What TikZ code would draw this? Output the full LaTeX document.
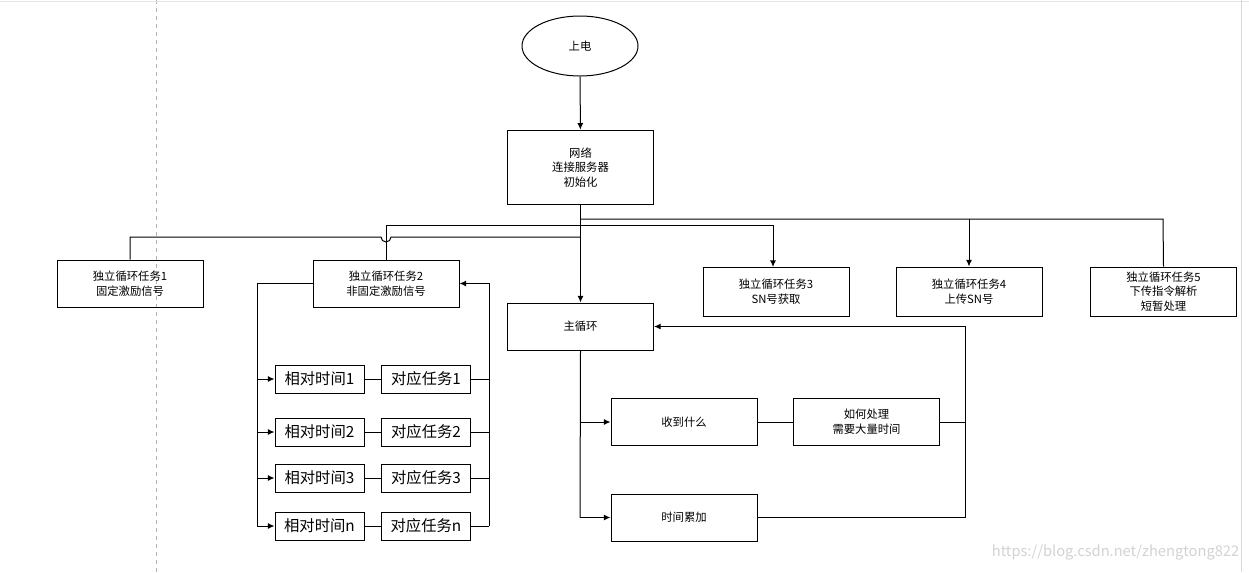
\documentclass[tikz,border=0pt]{standalone}
\usepackage{fontspec}
\setmainfont{Noto Sans CJK SC}
\usetikzlibrary{arrows.meta,shapes.geometric}
\begin{document}
\begin{tikzpicture}[x=0.75pt,y=-0.75pt,line width=0.75pt,
  box/.style={draw,minimum width=109.5pt,minimum height=35.25pt,align=center,inner sep=0pt,font=\fontsize{8.5}{11}\selectfont},
  sbox/.style={draw,minimum width=66.75pt,minimum height=21pt,inner sep=0pt,font=\fontsize{11.5}{13}\selectfont},
  line/.style={},
  arr/.style={-{Latex[length=5pt,width=4.5pt]}}]
\useasboundingbox (0,0) rectangle (1249,572);
\draw[gray!60,dashed] (156,0) -- (156,572);
\draw[gray!20] (0,1) -- (1249,1);
\draw[gray!30] (1241,0) -- (1241,572);
\node[draw,ellipse,minimum width=87pt,minimum height=45pt,font=\fontsize{8.5}{11}\selectfont] (pw) at (580,46) {上电};
\node[box,minimum height=56pt] (net) at (580.5,167.5) {网络\\连接服务器\\初始化};
\node[box] (t1) at (130,283.5) {独立循环任务1\\固定激励信号};
\node[box] (t2) at (386,283.5) {独立循环任务2\\非固定激励信号};
\node[box] (ml) at (580.5,326.5) {主循环};
\node[box,minimum height=36.75pt] (t3) at (776,291.5) {独立循环任务3\\SN号获取};
\node[box,minimum height=36.75pt] (t4) at (969,291.5) {独立循环任务4\\上传SN号};
\node[box,minimum height=36.75pt] (t5) at (1163.5,291.5) {独立循环任务5\\下传指令解析\\短暂处理};
\node[box] (rx) at (684,422) {收到什么};
\node[box] (hw) at (866.5,422) {如何处理\\需要大量时间};
\node[box] (ta) at (684,517.5) {时间累加};
\foreach \i/\y/\l in {1/379/1,2/432/2,3/478/3,4/526/n}{
  \node[sbox] (r\i) at (319.5,\y) {相对时间\l};
  \node[sbox] (c\i) at (426,\y) {对应任务\l};
  \draw[line] (r\i) -- (c\i);
  \draw[arr] (257,\y) -- (r\i.west);
  \draw[line] (c\i.east) -- (489,\y);
}
\draw[arr] (pw) -- (net);
\draw[arr] (net.south) -- (ml.north);
\draw[line] (580,219) -- (1163,219) -- (t5.north);
\draw[arr] (969,219) -- (t4.north);
\draw[arr] (580,225) -- (773,225) -- (773,267);
\draw[line] (580,225) -- (386,225) -- (t2.north);
\draw[line] (580,237) -- (391,237) arc[start angle=0,end angle=180,radius=5] -- (130,237) -- (t1.north);
\draw[line] (t2.west) -- (257,283.5) -- (257,526);
\draw[arr] (489,379) -- (489,283.5) -- (t2.east);
\draw[line] (489,379) -- (489,526);
\draw[line] (ml.south) -- (580,517.5);
\draw[arr] (580,422) -- (rx.west);
\draw[arr] (580,517.5) -- (ta.west);
\draw[line] (rx) -- (hw);
\draw[line] (hw.east) -- (965,422);
\draw[arr] (ta.east) -- (965,517.5) -- (965,326.5) -- (ml.east);
\node[anchor=south east,gray!35,font=\fontsize{11}{12}\selectfont,inner sep=1pt] (wm) at (1241,562) {https://blog.csdn.net/zhengtong822};
\end{tikzpicture}
\end{document}
